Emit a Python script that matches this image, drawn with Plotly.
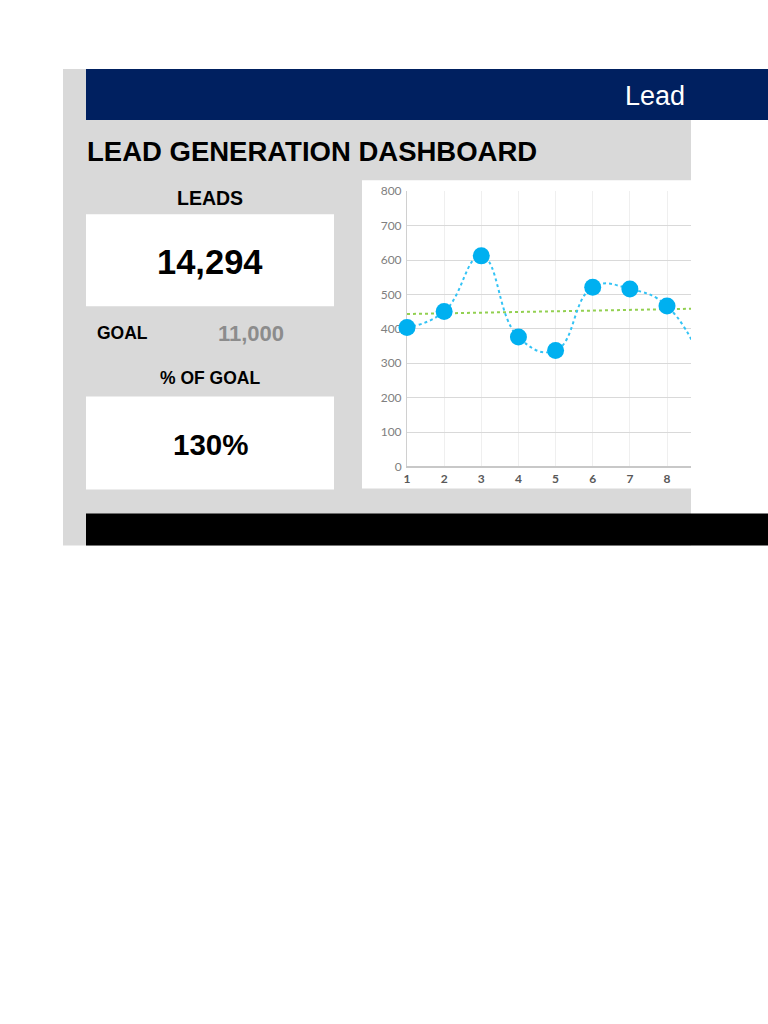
import plotly.graph_objects as go

# ---- data ----
periods = [1, 2, 3, 4, 5, 6, 7, 8, 9]
leads_by_period = [404, 450, 612, 376, 337, 521, 516, 466, 290]
trend_x = [1, 9]
trend_values = [443, 459]
y_ticks = [0, 100, 200, 300, 400, 500, 600, 700, 800]
x_ticks = [1, 2, 3, 4, 5, 6, 7, 8]

title_text = "LEAD GENERATION DASHBOARD"
header_text = "Lead"
leads_label = "LEADS"
leads_total = "14,294"
goal_label = "GOAL"
goal_value = "11,000"
pct_label = "% OF GOAL"
pct_value = "130%"

W, H = 768, 1024
# the photographed page maps page coords slightly; compensate
V_OFF, V_SCALE = 8, 1008 / 1024
H_OFF, H_SCALE = 3, 765 / 768


def px(x):
    return ((x - H_OFF) / H_SCALE) / W


def py(y):
    return 1 - ((y - V_OFF) / V_SCALE) / H


def rect(x0, y0, x1, y1, color, layer="below"):
    return dict(type="rect", xref="paper", yref="paper",
                x0=max(px(x0), 0), x1=min(px(x1), 1), y0=py(y1), y1=py(y0),
                fillcolor=color, line=dict(width=0), layer=layer)


shapes = [
    rect(63, 69, 691, 545, "#d9d9d9"),      # gray panel
    rect(86, 69, 768, 120, "#002060"),      # navy header
    rect(86, 513, 768, 545, "#000000"),     # black footer bar
    rect(86, 214, 334, 306, "#ffffff"),     # leads box
    rect(86, 396, 334, 489, "#ffffff"),     # % box
    rect(362, 180, 691, 488, "#ffffff"),    # chart box
    rect(691.5, 175, 768, 505, "#ffffff", layer="above"),  # clip cover
]

FONT = "Liberation Sans, Arial, sans-serif"


def ann(x, y, text, size, color="#000000", bold=True, xanchor="center"):
    return dict(xref="paper", yref="paper", x=px(x), y=py(y),
                text=f"<b>{text}</b>" if bold else text, showarrow=False,
                xanchor=xanchor, yanchor="middle", borderpad=0,
                font=dict(family=FONT, size=size, color=color))


annotations = [
    ann(655, 96, header_text, 27, "#ffffff", bold=False),
    ann(86, 151, title_text, 27.5, xanchor="left"),
    ann(210, 198, leads_label, 19.5),
    ann(210, 262, leads_total, 34.5),
    ann(96, 333, goal_label, 17.5, xanchor="left"),
    ann(251, 333, goal_value, 22, "#8c8c8c"),
    ann(210, 378, pct_label, 17.5),
    ann(210, 444, pct_value, 29.5),
]

fig = go.Figure()

fig.add_trace(go.Scatter(
    x=trend_x, y=trend_values, mode="lines",
    line=dict(color="#92d050", width=2, dash="dot"),
    hoverinfo="skip", showlegend=False))

fig.add_trace(go.Scatter(
    x=periods, y=leads_by_period, mode="lines",
    line=dict(color="#33c3f5", width=2, dash="dot", shape="spline", smoothing=1.3),
    hoverinfo="skip", showlegend=False))

fig.add_trace(go.Scatter(
    x=periods, y=leads_by_period, mode="markers",
    marker=dict(color="#00b0f0", size=17, line=dict(width=0)),
    cliponaxis=False, showlegend=False))

x_step = (667 - 407) / 7
x_max = 1 + (691 - 407) / x_step

fig.update_layout(
    width=W, height=H,
    margin=dict(l=0, r=0, t=0, b=0),
    paper_bgcolor="#ffffff",
    plot_bgcolor="rgba(0,0,0,0)",
    shapes=shapes,
    annotations=annotations,
    showlegend=False,
    xaxis=dict(domain=[px(407), px(691)], range=[1, x_max],
               tickvals=x_ticks, ticktext=[f"<b>{v}</b>" for v in x_ticks],
               showgrid=True, gridcolor="#efefef", gridwidth=1,
               zeroline=False, showline=True, linecolor="#c8c8c8", linewidth=2,
               ticks="", tickfont=dict(family="Lato", size=12, color="#595959"),
               layer="below traces", fixedrange=True),
    yaxis=dict(domain=[py(466), py(191)], range=[0, 800],
               tickvals=y_ticks, showgrid=True, gridcolor="#d9d9d9", gridwidth=1,
               zeroline=False, showline=True, linecolor="#d0d0d0", linewidth=1,
               ticks="", ticklabelstandoff=2,
               tickfont=dict(family="Lato", size=12, color="#808080"),
               layer="below traces", fixedrange=True),
)

fig.write_html("out.html", config={"displayModeBar": False},
               post_script="document.body.style.margin='0';")
